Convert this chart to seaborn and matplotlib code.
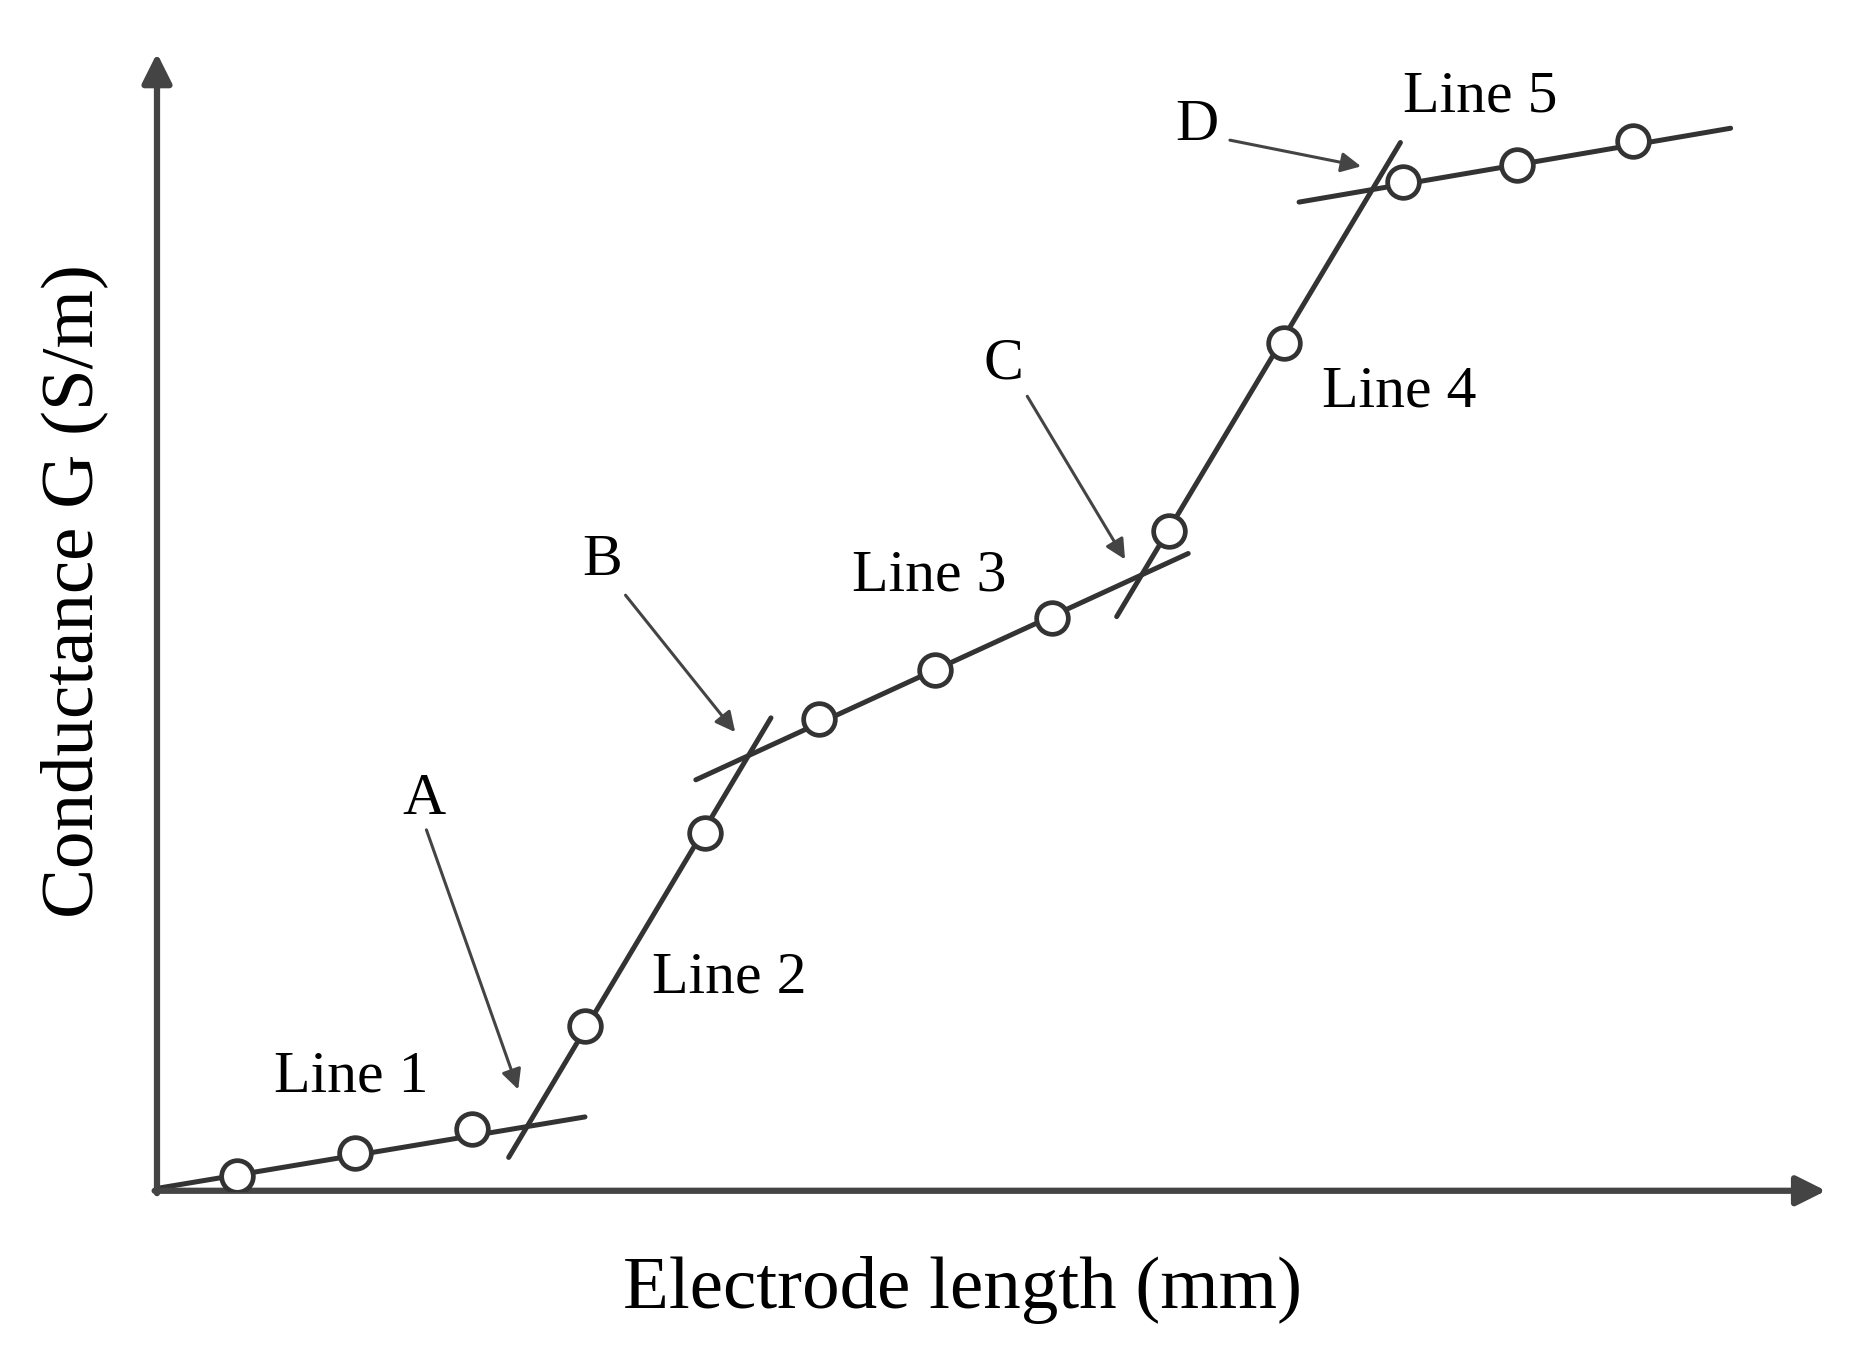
import numpy as np
import pandas as pd
import matplotlib.pyplot as plt
import seaborn as sns

# ── Data (arbitrary units) ────────────────────────────────────────────────
length = [0.67, 1.66, 2.64, 3.59, 4.60, 5.55, 6.53, 7.51, 8.49, 9.45, 10.45, 11.41, 12.38]
conductance = [0.12, 0.32, 0.52, 1.38, 3.00, 3.96, 4.37, 4.81, 5.54, 7.12, 8.47, 8.61, 8.81]

# fitted line segments (start/end)
line_names = ["Line 1", "Line 2", "Line 3", "Line 4", "Line 5"]
line_x = [[0.0, 3.59], [2.95, 5.15], [4.52, 8.65], [8.05, 10.43], [9.58, 13.20]]
line_y = [[0.02, 0.62], [0.28, 3.97], [3.45, 5.35], [4.82, 8.80], [8.30, 8.92]]

# label positions
line_label_x = [1.63, 4.80, 6.48, 10.42, 11.10]
line_label_y = [0.95, 1.78, 5.16, 6.70, 9.18]

points = ["A", "B", "C", "D"]
point_label_xy = [(2.24, 3.28), (3.73, 5.29), (7.10, 6.94), (8.72, 8.94)]
arrow_tail = [(2.26, 3.03), (3.93, 5.00), (7.30, 6.67), (9.00, 8.82)]
arrow_head = [(3.03, 0.85), (4.85, 3.85), (8.12, 5.30), (10.10, 8.60)]

segs = pd.DataFrame({
    "x": sum(line_x, []),
    "y": sum(line_y, []),
    "seg": [n for n in line_names for _ in range(2)],
})
pts = pd.DataFrame({"x": length, "y": conductance})

# ── Plot ──────────────────────────────────────────────────────────────────
sns.set_style("white")
plt.rcParams["font.family"] = ["Liberation Serif", "DejaVu Serif"]

ink = "#333333"
fig = plt.figure(figsize=(18.69, 13.64), dpi=100)
ax = fig.add_axes([0.084, 0.127, 0.893, 0.834])

sns.lineplot(data=segs, x="x", y="y", units="seg", estimator=None,
             color=ink, lw=3.6, sort=False, ax=ax)
sns.scatterplot(data=pts, x="x", y="y", s=520, color="white",
                edgecolor=ink, linewidth=3.4, zorder=5, ax=ax)

ax.set_xlim(0, 14)
ax.set_ylim(0, 9.55)
ax.set_xticks([])
ax.set_yticks([])
ax.set_xlabel("")
ax.set_ylabel("")
for s in ax.spines.values():
    s.set_visible(False)

# axes drawn as arrows
axis_kw = dict(arrowstyle="-|>", lw=4.5, color="#444444", mutation_scale=45,
               shrinkA=0, shrinkB=0)
ax.annotate("", xy=(14.0, 0), xytext=(-0.02, 0), arrowprops=axis_kw,
            annotation_clip=False)
ax.annotate("", xy=(0, 9.55), xytext=(0, -0.02), arrowprops=axis_kw,
            annotation_clip=False)

for name, lx, ly in zip(line_names, line_label_x, line_label_y):
    ax.text(lx, ly, name, fontsize=43, ha="center", va="center", color="black")

arr_kw = dict(arrowstyle="-|>", lw=2.2, color="#444444", mutation_scale=30,
              shrinkA=0, shrinkB=0)
for p, (tx, ty), tail, head in zip(points, point_label_xy, arrow_tail, arrow_head):
    ax.text(tx, ty, p, fontsize=43, ha="center", va="center", color="black")
    ax.annotate("", xy=head, xytext=tail, arrowprops=arr_kw)

fig.text(0.515, 0.054, "Electrode length (mm)", fontsize=54,
         ha="center", va="center", color="black")
fig.text(0.040, 0.567, "Conductance G (S/m)", fontsize=54, rotation=90,
         ha="center", va="center", color="black")

fig.savefig("out.png", dpi=100)
